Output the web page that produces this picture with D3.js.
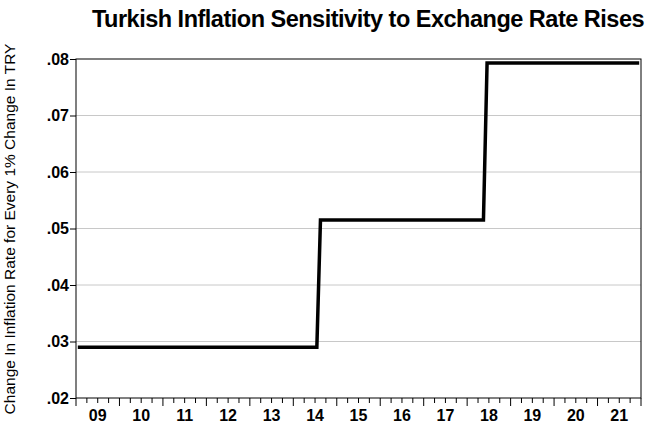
<!DOCTYPE html><html><head><meta charset="utf-8">
<script src="https://cdn.jsdelivr.net/npm/d3@7"></script>
<style>body{margin:0;background:#fff}text{font-family:Arial,"Liberation Sans",sans-serif}</style></head><body>
<svg id="c" width="645" height="426"></svg>
<script>
const yearLabels=["09","10","11","12","13","14","15","16","17","18","19","20","21"];
const segValues=[0.029,0.0515,0.0793];
const segMonths=[67,46,43]; // months spent at each level, from Jan 2009
const yTicks=[0.02,0.03,0.04,0.05,0.06,0.07,0.08];
const values=[];segValues.forEach((v,i)=>{for(let k=0;k<segMonths[i];k++)values.push(v);});
const nM=yearLabels.length*12;
const L=76,R=641,T=59,B=398;
const svg=d3.select("#c");
const x=d3.scaleLinear().domain([0,nM]).range([L,R]);
const y=d3.scaleLinear().domain([0.02,0.08]).range([B,T]);
svg.append("g").selectAll("line").data(yTicks.slice(1,-1)).join("line")
 .attr("x1",L).attr("x2",R).attr("y1",d=>y(d)).attr("y2",d=>y(d)).attr("stroke","#c8c8c8");
svg.append("rect").attr("x",L).attr("y",T).attr("width",R-L).attr("height",B-T).attr("fill","none").attr("stroke","#000");
const ya=svg.append("g").attr("transform",`translate(${L},0)`).call(d3.axisLeft(y).tickValues(yTicks).tickSize(6).tickFormat(d=>d3.format(".2f")(d).replace(/^0/,"")));
ya.select(".domain").remove();
ya.selectAll("text").attr("font-size",16).attr("font-weight","bold").attr("x",-7);
const q=d3.range(0,nM+1,3);
svg.append("g").selectAll("line").data(q).join("line")
 .attr("x1",d=>x(d)).attr("x2",d=>x(d)).attr("y1",B).attr("y2",d=>d%12===0?B+8:B+5).attr("stroke","#000");
svg.append("g").selectAll("text").data(yearLabels).join("text")
 .attr("x",(d,i)=>x(i*12+6)).attr("y",421).attr("text-anchor","middle").attr("font-size",16).attr("font-weight","bold").text(d=>d);
svg.append("path").datum(values).attr("fill","none").attr("stroke","#000").attr("stroke-width",3.5)
 .attr("d",d3.line().x((d,i)=>x(i+0.5)).y(d=>y(d)));
svg.append("text").attr("x",368).attr("y",27).attr("text-anchor","middle").attr("font-size",23.5).attr("font-weight","bold").attr("letter-spacing","-0.5").text("Turkish Inflation Sensitivity to Exchange Rate Rises");
svg.append("text").attr("transform","translate(15,229) rotate(-90)").attr("text-anchor","middle").attr("font-size",15.5).text("Change In Inflation Rate for Every 1% Change In TRY");
</script></body></html>
